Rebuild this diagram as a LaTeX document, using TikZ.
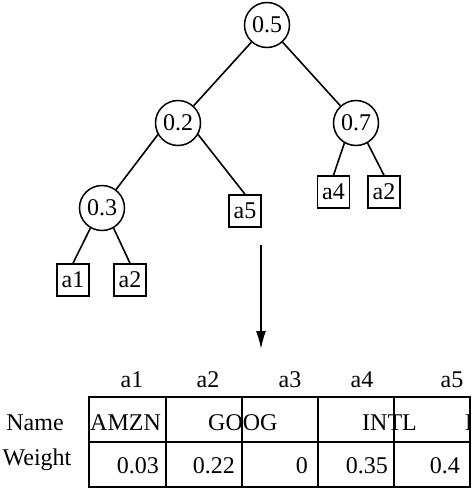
\documentclass[tikz,border=0pt]{standalone}
\usepackage{fontspec}
\setmainfont{Liberation Serif}
\usepackage{tikz}
\usetikzlibrary{positioning,calc,arrows.meta}

\newcommand{\picfont}{\fontsize{24}{28}\selectfont}

\tikzset{
  inner/.style={draw, circle, minimum size=45pt, inner sep=0pt, line width=1.5pt},
  leaf/.style={draw, rectangle, minimum size=32pt, inner sep=0pt, line width=1.5pt},
  edge/.style={line width=1.6pt},
  grid/.style={line width=2pt}
}

\begin{document}
\begin{tikzpicture}[x=1pt, y=-1pt, every node/.style={font=\picfont}]
  \useasboundingbox (0,0) rectangle (474,488);

  % tree
  \path
  (267,25) node[inner] (r) {0.5}
  (178,123) node[inner] (n2) {0.2}
  (356,123) node[inner] (n7) {0.7}
  (102,208) node[inner] (n3) {0.3}
  (245,211) node[leaf] (a5) {a5}
  (333.5,192) node[leaf] (a4) {a4}
  (384,192) node[leaf] (a2r) {a2}
  (73,280) node[leaf] (a1) {a1}
  (130,280) node[leaf] (a2l) {a2};

  \draw[edge] (r) -- (n2);
  \draw[edge] (r) -- (n7);
  \draw[edge] (n2.210) -- (n3);
  \draw[edge] (n2.-30) -- (a5.north);
  \draw[edge] (n7.240) -- (a4.north);
  \draw[edge] (n7.300) -- (a2r.north);
  \draw[edge] (n3.240) -- (a1.north);
  \draw[edge] (n3.300) -- (a2l.north);

  % arrow down to the table
  \path (261,245) coordinate (top) (261,349) coordinate (bot);
  \draw[edge, -{Latex[length=18pt, width=10pt]}] (top) -- (bot);

  % table
  \path
  (35,423) node (name) {Name}
  (37,460) node (weight) {Weight};

  \foreach \lbl/\x in {a1/132, a2/208, a3/290, a4/362, a5/452}
    \node (h\lbl) at (\x,380) {\lbl};

  \node[anchor=west, inner sep=0pt] (amzn) at (90,423) {AMZN};
  \node[anchor=west, inner sep=0pt] (goog) at (208,423) {GOOG};
  \node[anchor=west, inner sep=0pt] (intl) at (362,423) {INTL};
  \begin{scope}
    \clip (394,397) rectangle (470,442);
    \node[anchor=west, inner sep=0pt] (m) at (465,423) {M};
  \end{scope}

  \foreach \val/\x in {0.03/159, 0.22/235, 0/308, 0.35/388, 0.4/460}
    \node[anchor=east, inner sep=0pt] at (\x,466) {\val};

  \draw[grid] (89,397) rectangle (470,487);
  \draw[grid] (89,442) -- (470,442);
  \foreach \x in {166,242,318,394}
    \draw[grid] (\x,397) -- (\x,487);
\end{tikzpicture}
\end{document}
